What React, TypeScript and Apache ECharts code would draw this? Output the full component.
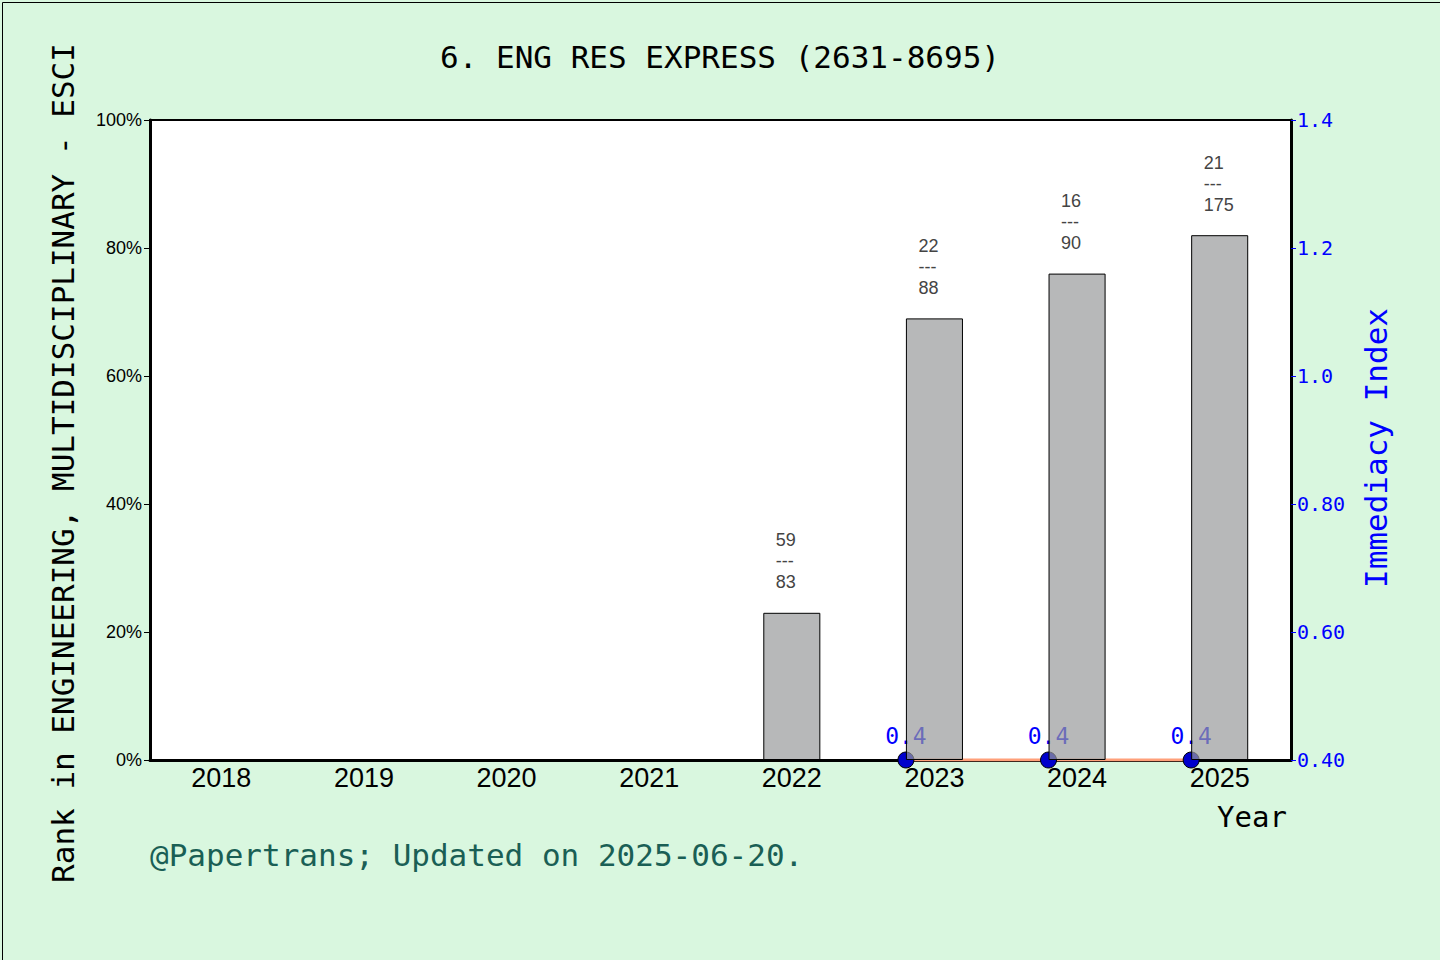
import React, { useEffect, useRef } from "react";
import * as echarts from "echarts";

const years = ["2018", "2019", "2020", "2021", "2022", "2023", "2024", "2025"];
const rankPercent = [null, null, null, null, 23, 69, 76, 82];
const rankLabels = ["", "", "", "", "59\n---\n83", "22\n---\n88", "16\n---\n90", "21\n---\n175"];
const immediacyYears = ["2023", "2024", "2025"];
const immediacyValues = [0.4, 0.4, 0.4];
const leftTickLabels = ["0%", "20%", "40%", "60%", "80%", "100%"];
const rightTickLabels = ["0.40", "0.60", "0.80", "1.0", "1.2", "1.4"];

const BAR_HALF = 0.2; // points sit at the left edge of each bar (bar width 0.4 of a category)
const MONO = "'DejaVu Sans Mono', monospace";

export default function App() {
  const ref = useRef<HTMLDivElement>(null);
  useEffect(() => {
    document.body.style.margin = "0";
    const chart = echarts.init(ref.current!, null, { renderer: "svg" });
    const lineData = immediacyYears.map((y, i) => [years.indexOf(y) - BAR_HALF, immediacyValues[i]]);
    chart.setOption({
      animation: false,
      backgroundColor: "#d9f7df",
      title: {
        text: "6. ENG RES EXPRESS (2631-8695)",
        left: "center",
        top: 36,
        textStyle: { fontFamily: MONO, fontSize: 31, fontWeight: "normal", color: "#000" },
      },
      grid: {
        left: 150,
        top: 120,
        right: 149,
        bottom: 200,
        show: true,
        backgroundColor: "#fff",
        borderColor: "#000",
        borderWidth: 2,
      },
      xAxis: [
        {
          type: "category",
          data: years,
          axisLine: { lineStyle: { color: "#000", width: 3 } },
          axisTick: { inside: true, length: 6, lineStyle: { color: "#000", width: 1 } },
          axisLabel: { color: "#000", fontSize: 27, fontFamily: "'Liberation Sans', sans-serif", margin: 4 },
          splitLine: { show: false },
        },
        {
          type: "value",
          min: -0.5,
          max: 7.5,
          show: false,
          position: "bottom",
          splitLine: { show: false },
        },
      ],
      yAxis: [
        {
          type: "value",
          min: 0,
          max: 100,
          interval: 20,
          axisLine: { show: true, onZero: false, lineStyle: { color: "#000", width: 3 } },
          axisTick: { show: true, length: 6, lineStyle: { color: "#000" } },
          axisLabel: {
            color: "#000",
            fontSize: 18,
            fontFamily: "'Liberation Sans', sans-serif",
            margin: 8,
            formatter: (_v: number, i: number) => leftTickLabels[i],
          },
          splitLine: { show: false },
        },
        {
          type: "value",
          min: 0.4,
          max: 1.4,
          interval: 0.2,
          position: "right",
          axisLine: { show: true, onZero: false, lineStyle: { color: "#000", width: 3 } },
          axisTick: { show: true, length: 5, lineStyle: { color: "#0000ff" } },
          axisLabel: {
            color: "#0000ff",
            fontSize: 20,
            fontFamily: MONO,
            margin: 6,
            formatter: (_v: number, i: number) => rightTickLabels[i],
          },
          splitLine: { show: false },
        },
      ],
      series: [
        {
          type: "line",
          xAxisIndex: 1,
          yAxisIndex: 1,
          data: lineData,
          z: 2,
          lineStyle: { color: "#ffa07a", width: 3 },
          symbol: "circle",
          symbolSize: 16,
          itemStyle: { color: "#0000cc", borderColor: "#000", borderWidth: 1 },
          label: {
            show: true,
            position: "top",
            distance: 4,
            color: "#0000ff",
            fontFamily: MONO,
            fontSize: 23,
            formatter: (p: any) => String(p.value[1]),
          },
        },
        {
          type: "bar",
          xAxisIndex: 0,
          yAxisIndex: 0,
          data: rankPercent,
          barWidth: "40%",
          z: 3,
          itemStyle: { color: "rgba(153,154,155,0.7)", borderColor: "#000", borderWidth: 1 },
          label: {
            show: true,
            position: "top",
            distance: 20,
            align: "left",
            offset: [-16, 0],
            color: "#444",
            fontSize: 18,
            lineHeight: 21,
            fontFamily: "'Liberation Sans', sans-serif",
            formatter: (p: any) => rankLabels[p.dataIndex],
          },
        },
      ],
      graphic: [
        {
          type: "text",
          x: 63,
          y: 463,
          rotation: Math.PI / 2,
          style: {
            text: "Rank in ENGINEERING, MULTIDISCIPLINARY - ESCI",
            fontFamily: MONO,
            fontSize: 31,
            fill: "#000",
            align: "center",
            verticalAlign: "middle",
          },
        },
        {
          type: "text",
          x: 1376,
          y: 448,
          rotation: Math.PI / 2,
          style: {
            text: "Immediacy Index",
            fontFamily: MONO,
            fontSize: 31,
            fill: "#0000ff",
            align: "center",
            verticalAlign: "middle",
          },
        },
        {
          type: "text",
          left: 1217,
          top: 802,
          style: { text: "Year", fontFamily: MONO, fontSize: 29, fill: "#000" },
        },
        {
          type: "text",
          left: 150,
          top: 839,
          style: { text: "@Papertrans; Updated on 2025-06-20.", fontFamily: MONO, fontSize: 31, fill: "#1a5f55" },
        },
        {
          type: "rect",
          left: 0,
          top: 0,
          shape: { width: 1439, height: 959 },
          style: { fill: "none", stroke: "#000", lineWidth: 1 },
          silent: true,
        },
      ],
    });
    return () => chart.dispose();
  }, []);
  return <div ref={ref} style={{ width: 1440, height: 960 }} />;
}
